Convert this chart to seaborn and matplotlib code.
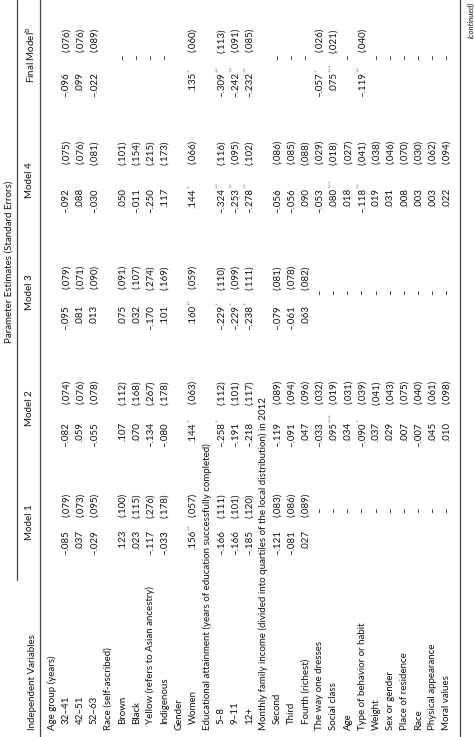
import matplotlib
matplotlib.use("Agg")
import matplotlib.pyplot as plt
import seaborn as sns

# Table data (rotated page of a regression table)
row_labels = [
    "Age group (years)", "32–41", "42–51", "52–63",
    "Race (self-ascribed)", "Brown", "Black", "Yellow (refers to Asian ancestry)", "Indigenous",
    "Gender", "Women",
    "Educational attainment (years of education successfully completed)", "5–8", "9–11", "12+",
    "Monthly family income (divided into quartiles of the local distribution) in 2012",
    "Second", "Third", "Fourth (richest)",
    "The way one dresses", "Social class", "Age", "Type of behavior or habit", "Weight",
    "Sex or gender", "Place of residence", "Race", "Physical appearance", "Moral values",
]
indented = [False, True, True, True, False, True, True, True, True, False, True,
            False, True, True, True, False, True, True, True,
            False, False, False, False, False, False, False, False, False, False]

D = "–"
model1_coef = [None, "–.085", ".037", "–.029", None, ".123", ".023", "–.117", "–.033", None, ".156**",
               None, "–.166", "–.166", "–.185", None, "–.121", "–.081", ".027"] + [D] * 10
model1_se = [None, "(.079)", "(.073)", "(.095)", None, "(.100)", "(.115)", "(.276)", "(.178)", None, "(.057)",
             None, "(.111)", "(.101)", "(.120)", None, "(.083)", "(.086)", "(.089)"] + [None] * 10

model2_coef = [None, "–.082", ".059", "–.055", None, ".107", ".070", "–.134", "–.080", None, ".144*",
               None, "–.258*", "–.191", "–.218", None, "–.119", "–.091", ".047",
               "–.033", ".095***", ".034", "–.090*", ".037", ".029", ".007", "–.007", ".045", ".010"]
model2_se = [None, "(.074)", "(.076)", "(.078)", None, "(.112)", "(.168)", "(.267)", "(.178)", None, "(.063)",
             None, "(.112)", "(.101)", "(.117)", None, "(.089)", "(.094)", "(.096)",
             "(.032)", "(.019)", "(.031)", "(.039)", "(.041)", "(.043)", "(.075)", "(.040)", "(.061)", "(.098)"]

model3_coef = [None, "–.095", ".081", ".013", None, ".075", ".032", "–.170", ".101", None, ".160**",
               None, "–.229*", "–.229*", "–.238*", None, "–.079", "–.061", ".063"] + [D] * 10
model3_se = [None, "(.079)", "(.071)", "(.090)", None, "(.091)", "(.107)", "(.274)", "(.169)", None, "(.059)",
             None, "(.110)", "(.099)", "(.111)", None, "(.081)", "(.078)", "(.082)"] + [None] * 10

model4_coef = [None, "–.092", ".088", "–.030", None, ".050", "–.011", "–.250", ".117", None, ".144*",
               None, "–.324**", "–.253**", "–.278**", None, "–.056", "–.056", ".090",
               "–.053", ".080***", ".018", "–.118**", ".019", ".031", ".008", ".003", ".003", ".022"]
model4_se = [None, "(.075)", "(.076)", "(.081)", None, "(.101)", "(.154)", "(.215)", "(.173)", None, "(.066)",
             None, "(.116)", "(.095)", "(.102)", None, "(.086)", "(.085)", "(.088)",
             "(.029)", "(.018)", "(.027)", "(.041)", "(.038)", "(.046)", "(.070)", "(.030)", "(.062)", "(.094)"]

final_coef = [None, "–.096", ".099", "–.022", None, D, D, D, D, None, ".135*",
              None, "–.309**", "–.242**", "–.232**", None, D, D, D,
              "–.057*", ".075***", D, "–.119**", D, D, D, D, D, D]
final_se = [None, "(.076)", "(.076)", "(.089)", None, None, None, None, None, None, "(.060)",
            None, "(.113)", "(.091)", "(.085)", None, None, None, None,
            "(.026)", "(.021)", None, "(.040)", None, None, None, None, None, None]

model_names = ["Model 1", "Model 2", "Model 3", "Model 4", "Final Model$^{\\rm b}$"]
models = [(model1_coef, model1_se), (model2_coef, model2_se), (model3_coef, model3_se),
          (model4_coef, model4_se), (final_coef, final_se)]

# layout (page pixels; rows run left to right, text rotated 90 degrees)
coef_top = [530, 422, 305, 188, 72]
se_top = [493, 380, 265, 140, 28]
dash_pos = [510, 410, 292, 170, 57]
head_pos = [522, 408, 292, 180, 55]

sns.set_theme(style="white")
plt.rcParams["font.family"] = ["Lato", "DejaVu Sans"]
ink = "#111111"
fs = 7

fig = plt.figure(figsize=(4.74, 7.37), dpi=100)
ax = fig.add_axes([0, 0, 1, 1])
ax.set_xlim(0, 474)
ax.set_ylim(737, 0)
ax.axis("off")

row_x = [52 + 14.1 * i for i in range(len(row_labels))]

def vtext(x, y, s, ha, color=ink, size=fs, **kw):
    ax.text(x, y, s, rotation=90, rotation_mode="anchor", ha=ha, va="center",
            color=color, fontsize=size, **kw)

# rules
ax.plot([17, 17], [0, 580], color="#444444", lw=0.9)
ax.plot([40, 40], [0, 737], color="#444444", lw=0.9)
ax.plot([460, 460], [0, 737], color="#444444", lw=0.9)

# headers
vtext(9, 262, "Parameter Estimates (Standard Errors)", "center")
vtext(33, 730, "Independent Variables", "left")
for name, hp in zip(model_names, head_pos):
    vtext(30, hp, name, "center")
vtext(471, 2, "(continued)", "right", size=5.6, style="italic")

# body
for i, label in enumerate(row_labels):
    vtext(row_x[i], 724 if indented[i] else 730, label, "left")

for (coefs, ses), ct, st, dp in zip(models, coef_top, se_top, dash_pos):
    for i, (c, s) in enumerate(zip(coefs, ses)):
        x = row_x[i]
        if c == D:
            vtext(x, dp, D, "center")
        elif c is not None:
            num = c.rstrip("*")
            stars = c[len(num):]
            vtext(x, ct, num, "right")
            if stars:
                ax.text(x - 2.5, ct - 0.5, stars, rotation=90, rotation_mode="anchor",
                        ha="left", va="center", color="#888888", fontsize=5)
        if s is not None:
            vtext(x, st, s, "right")

fig.savefig("out.png", dpi=100, facecolor="white")
